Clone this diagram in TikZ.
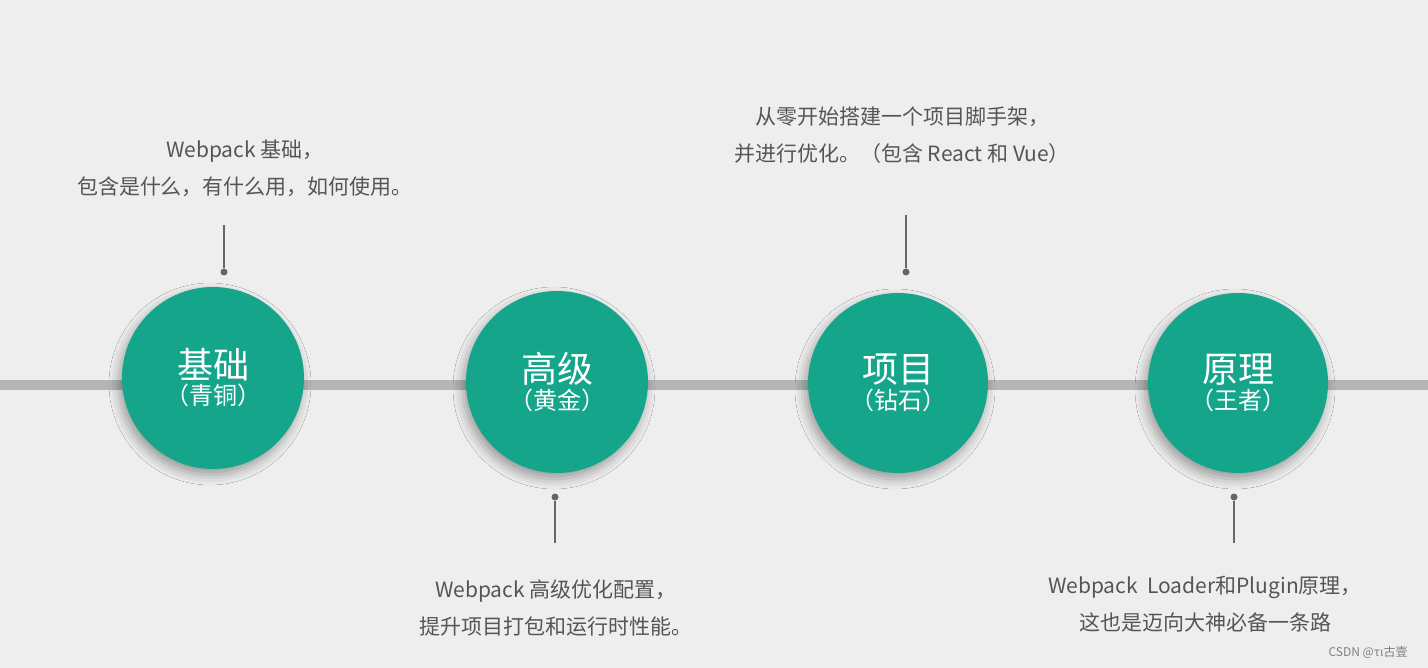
\documentclass[tikz,border=0pt]{standalone}
\usepackage{fontspec}
\setmainfont{Noto Sans CJK SC}
\usetikzlibrary{shadows.blur}
\definecolor{bg}{HTML}{EEEEEE}
\definecolor{teal1}{HTML}{14A58B}
\definecolor{bar}{HTML}{B5B5B5}
\definecolor{txt}{HTML}{555555}
\definecolor{pin}{HTML}{666666}
\tikzset{
 stage/.style={circle,fill=teal1,minimum size=182pt,inner sep=0pt,blur shadow={shadow xshift=-3pt,shadow yshift=-6pt,shadow blur radius=10pt,shadow opacity=35}},
 desc/.style={text=txt,font=\fontsize{21}{37}\selectfont,align=center},
 pinline/.style={draw=pin,line width=1.5pt},
 dot/.style={circle,fill=pin,inner sep=0pt,minimum size=7pt}
}
\newcommand{\stagetext}[2]{\textcolor{white}{\fontsize{36}{40}\selectfont #1}\\[2pt]\textcolor{white}{\fontsize{24}{26}\selectfont （#2）}}
\begin{document}
\begin{tikzpicture}[x=1pt,y=-1pt]
\fill[bg] (0,0) rectangle (1428,668);
\useasboundingbox (0,0) rectangle (1428,668);
\coordinate (L) at (0,385); \coordinate (R) at (1428,385);
\draw[bar,line width=10pt] (L) -- (R);
\node[stage,align=center] (c1) at (213,378) {\stagetext{基础}{青铜}};
\node[stage,align=center] (c2) at (557,382) {\stagetext{高级}{黄金}};
\node[stage,align=center,minimum size=180pt] (c3) at (898,383) {\stagetext{项目}{钻石}};
\node[stage,align=center,minimum size=180pt] (c4) at (1238,383) {\stagetext{原理}{王者}};
% pins
\node[dot] (d1) at (224,272) {}; \coordinate (t1) at (224,225);
\draw[pinline] (d1) -- (t1);
\node[dot] (d2) at (555,497) {}; \coordinate (t2) at (555,543);
\draw[pinline] (d2) -- (t2);
\node[dot] (d3) at (906,272) {}; \coordinate (t3) at (906,215);
\draw[pinline] (d3) -- (t3);
\node[dot] (d4) at (1234,497) {}; \coordinate (t4) at (1234,543);
\draw[pinline] (d4) -- (t4);
% descriptions
\node[desc] (x1) at (245,168) {Webpack 基础，\\包含是什么，有什么用，如何使用。};
\node[desc] (x2) at (556,608) {Webpack 高级优化配置，\\提升项目打包和运行时性能。};
\node[desc] (x3) at (902,135) {从零开始搭建一个项目脚手架，\\并进行优化。（包含 React 和 Vue）};
\node[desc] (x4) at (1205,604) {Webpack~ Loader和Plugin原理，\\这也是迈向大神必备一条路};
\node[text=gray,font=\fontsize{12}{14}\selectfont] (wm) at (1368,652) {CSDN @τι古壹};
\end{tikzpicture}
\end{document}
